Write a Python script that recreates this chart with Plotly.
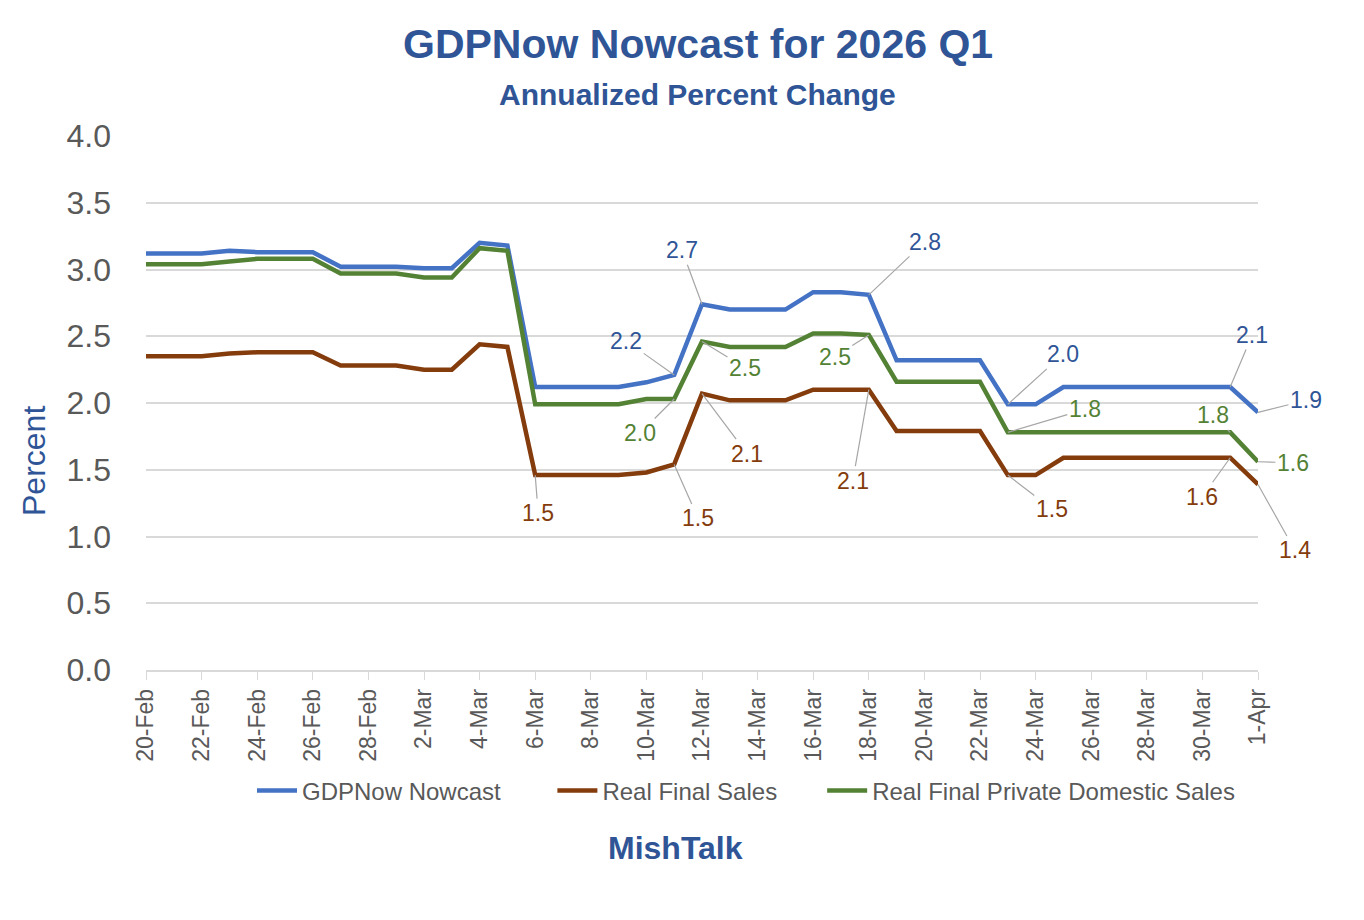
import pandas as pd
import plotly.graph_objects as go

dates = pd.date_range("2026-02-20", "2026-04-01", freq="D")

gdpnow = [3.12, 3.12, 3.12, 3.14, 3.13, 3.13, 3.13, 3.02, 3.02, 3.02,
          3.01, 3.01, 3.20, 3.18, 2.12, 2.12, 2.12, 2.12, 2.155, 2.21,
          2.74, 2.70, 2.70, 2.70, 2.83, 2.83, 2.81, 2.32, 2.32, 2.32,
          2.32, 1.99, 1.99, 2.12, 2.12, 2.12, 2.12, 2.12, 2.12, 2.12, 1.93]
real_final_sales = [2.35, 2.35, 2.35, 2.37, 2.38, 2.38, 2.38, 2.28, 2.28, 2.28,
                    2.25, 2.25, 2.44, 2.42, 1.46, 1.46, 1.46, 1.46, 1.48, 1.54,
                    2.07, 2.02, 2.02, 2.02, 2.10, 2.10, 2.10, 1.79, 1.79, 1.79,
                    1.79, 1.46, 1.46, 1.59, 1.59, 1.59, 1.59, 1.59, 1.59, 1.59, 1.39]
real_private = [3.04, 3.04, 3.04, 3.06, 3.08, 3.08, 3.08, 2.97, 2.97, 2.97,
                2.94, 2.94, 3.16, 3.14, 1.99, 1.99, 1.99, 1.99, 2.03, 2.03,
                2.46, 2.42, 2.42, 2.42, 2.52, 2.52, 2.51, 2.16, 2.16, 2.16,
                2.16, 1.78, 1.78, 1.78, 1.78, 1.78, 1.78, 1.78, 1.78, 1.78, 1.56]

NB = "\u00a0"
series = [
    ("GDPNow Nowcast", gdpnow, "#4472C4", "#2F5597", 7),
    ("Real Final Sales", real_final_sales, "#843C0C", "#843C0C", 6),
    ("Real Final Private Domestic Sales", real_private, "#548235", "#548235", 0),
]

# labels: (series index, day index, text offset x, text offset y) in pixels
labels = [
    (0, 19, -48, -34), (0, 20, -20, -54), (0, 26, 56, -53), (0, 31, 55, -50),
    (0, 39, 22, -52), (0, 40, 48, -12),
    (2, 19, -34, 34), (2, 20, 43, 26), (2, 26, -34, 22), (2, 31, 77, -23),
    (2, 39, -17, -17), (2, 40, 35, 1),
    (1, 14, 3, 38), (1, 19, 24, 54), (1, 20, 45, 60), (1, 26, -16, 91),
    (1, 31, 44, 34), (1, 39, -28, 39), (1, 40, 37, 66),
]

FONT = "Liberation Sans, Arial"
TITLE_BLUE = "#2F5597"

fig = go.Figure()
for name, vals, col, _, pad in series:
    fig.add_trace(go.Scatter(x=dates, y=vals, name=name + NB * pad, mode="lines",
                             line=dict(color=col, width=4.5)))

annotations = []
for si, di, ax, ay in labels:
    name, vals, col, tcol, _ = series[si]
    v = vals[di]
    annotations.append(dict(
        x=dates[di], y=v, xref="x", yref="y", text=f"{v:.1f}",
        showarrow=True, arrowhead=0, arrowwidth=1.2, arrowcolor="#A6A6A6",
        ax=ax, ay=ay, standoff=0,
        font=dict(family=FONT, size=23, color=tcol)))

def px_y(py):
    return (670 - py) / 534

def px_x(px):
    return (px - 146) / 1112

annotations += [
    dict(text="<b>GDPNow Nowcast for 2026 Q1</b>", x=px_x(698), xref="paper",
         y=px_y(44), yref="paper", showarrow=False, xanchor="center",
         yanchor="middle", font=dict(family=FONT, size=41, color=TITLE_BLUE)),
    dict(text="<b>Annualized Percent Change</b>", x=px_x(697), xref="paper",
         y=px_y(95), yref="paper", showarrow=False, xanchor="center",
         yanchor="middle", font=dict(family=FONT, size=30, color=TITLE_BLUE)),
    dict(text="<b>MishTalk</b>", x=px_x(675), xref="paper",
         y=px_y(848), yref="paper", showarrow=False, xanchor="center",
         yanchor="middle", font=dict(family=FONT, size=32, color=TITLE_BLUE)),
    dict(text="Percent", x=px_x(34), xref="paper", y=px_y(461), yref="paper",
         showarrow=False, xanchor="center", yanchor="middle", textangle=-90,
         font=dict(family=FONT, size=32, color=TITLE_BLUE)),
]

fig.update_layout(
    width=1364, height=920,
    margin=dict(l=146, r=106, t=136, b=250, pad=0),
    paper_bgcolor="white", plot_bgcolor="white",
    annotations=annotations,
    showlegend=True,
    legend=dict(orientation="h", x=px_x(252), xanchor="left", y=px_y(791),
                yanchor="middle", font=dict(family=FONT, size=24, color="#595959"),
                itemwidth=40, tracegroupgap=0),
    xaxis=dict(type="date", range=[dates[0], dates[-1]], tick0=dates[0],
               dtick=2 * 86400000, tickformat="%-d-%b", tickangle=-90,
               showgrid=False, showline=True, linecolor="#D9D9D9", linewidth=1.5,
               ticks="outside", ticklen=8, tickcolor="#D9D9D9",
               tickfont=dict(family=FONT, size=23, color="#595959")),
    yaxis=dict(range=[0, 4], dtick=0.5, tickformat=".1f", showgrid=True,
               gridcolor="#D9D9D9", gridwidth=1.5, zeroline=False, showline=False,
               ticks="", ticklabelstandoff=34,
               tickfont=dict(family=FONT, size=32, color="#595959")),
)

fig.write_html("out.html")
